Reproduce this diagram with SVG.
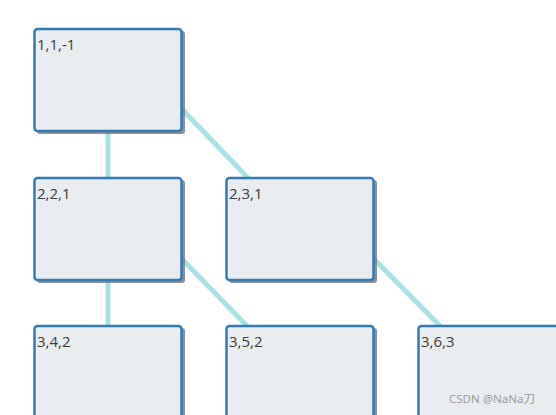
<svg xmlns="http://www.w3.org/2000/svg" width="556" height="415" viewBox="0 0 556 415">
<defs>
<style>
.box{fill:#eaedef;stroke:#2e7bb8;stroke-width:2.5}
.sh{fill:#6b6b6b;opacity:0.75}
.lbl{font-family:"Open Sans","Noto Sans",sans-serif;font-size:15px;fill:#3a3a3a}
.edge{stroke:#a6e2e5;stroke-width:5;fill:none}
.wm{font-family:"Noto Sans","Noto Sans CJK SC",sans-serif;font-size:11.5px;fill:#9a9a9a}
</style>
</defs>
<rect width="556" height="415" fill="#ffffff"/>
<g id="connectors">
<line class="edge" x1="108" y1="130" x2="108" y2="180"/>
<line class="edge" x1="175" y1="102" x2="250" y2="180"/>
<line class="edge" x1="108" y1="278" x2="108" y2="328"/>
<line class="edge" x1="175" y1="252" x2="249" y2="328"/>
<line class="edge" x1="367" y1="252" x2="442" y2="328"/>
</g>
<g id="n111">
<rect class="sh" x="37" y="31" width="148" height="103" rx="3"/>
<rect class="box" x="34.5" y="29" width="147" height="102" rx="3"/>
<text class="lbl" x="37" y="50">1,1,-1</text>
</g>
<g id="n221">
<rect class="sh" x="37" y="180" width="148" height="103" rx="3"/>
<rect class="box" x="34.5" y="178" width="147" height="102" rx="3"/>
<text class="lbl" x="37" y="199">2,2,1</text>
</g>
<g id="n231">
<rect class="sh" x="229" y="180" width="148" height="103" rx="3"/>
<rect class="box" x="226.5" y="178" width="147" height="102" rx="3"/>
<text class="lbl" x="229" y="199">2,3,1</text>
</g>
<g id="n342">
<rect class="sh" x="37" y="328" width="148" height="103" rx="3"/>
<rect class="box" x="34.5" y="326" width="147" height="102" rx="3"/>
<text class="lbl" x="37" y="347">3,4,2</text>
</g>
<g id="n352">
<rect class="sh" x="229" y="328" width="148" height="103" rx="3"/>
<rect class="box" x="226.5" y="326" width="147" height="102" rx="3"/>
<text class="lbl" x="229" y="347">3,5,2</text>
</g>
<g id="n363">
<rect class="sh" x="421" y="328" width="148" height="103" rx="3"/>
<rect class="box" x="418.5" y="326" width="147" height="102" rx="3"/>
<text class="lbl" x="421" y="347">3,6,3</text>
</g>
<text class="wm" x="449" y="403">CSDN @NaNa刀</text>
</svg>
